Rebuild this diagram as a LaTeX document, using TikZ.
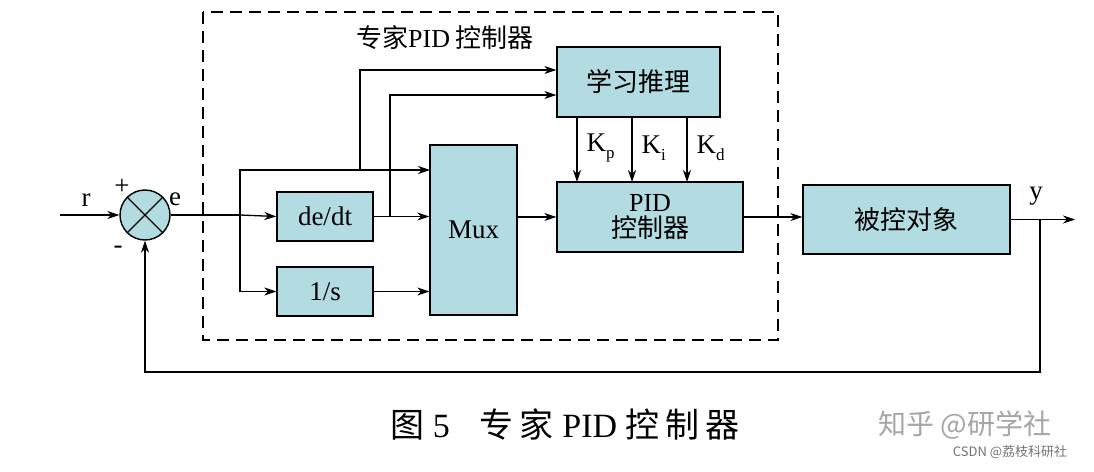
\documentclass[tikz,border=0pt]{standalone}
\usepackage{fontspec}
\setmainfont{Liberation Serif}
\newfontfamily\cjk{Noto Sans CJK SC}
\usetikzlibrary{arrows.meta}
\definecolor{boxc}{RGB}{178,220,226}
\begin{document}
\begin{tikzpicture}[x=1pt,y=-1pt,
  blk/.style={draw,line width=1.4pt,fill=boxc,inner sep=0},
  ar/.style={-{Stealth[length=12pt,width=8pt]},line width=1.3pt},
  ln/.style={line width=1.3pt},
  lab/.style={font=\fontsize{27}{29}\selectfont},
  zh/.style={font=\cjk\fontsize{26}{32}\selectfont}]
\useasboundingbox (0,0) rectangle (1094,471);
\fill[white] (0,0) rectangle (1094,471);
\draw[line width=1.4pt,dash pattern=on 12pt off 7pt] (203,12) rectangle (778,340);
\node[zh] (title) at (445,38) {专家{\fontspec{Liberation Serif}PID} 控制器};
\node[blk,minimum width=163pt,minimum height=70pt,zh] (learn) at (638.5,82) {学习推理};
\node[blk,minimum width=186pt,minimum height=70pt,zh,align=center] (pid) at (650,217) {\fontspec{Liberation Serif}PID\\[-6pt]控制器};
\node[blk,minimum width=87pt,minimum height=170pt,lab] (mux) at (473.5,230) {Mux};
\node[blk,minimum width=96pt,minimum height=49pt,lab] (dedt) at (325,216.5) {de/dt};
\node[blk,minimum width=96pt,minimum height=49pt,lab] (ints) at (325,291.5) {1/s};
\node[blk,minimum width=207pt,minimum height=69pt,zh] (plant) at (906.5,219.5) {被控对象};
\node[circle,draw,line width=1.4pt,fill=boxc,minimum size=50pt,inner sep=0] (sum) at (145,215) {};
\draw[line width=1.4pt] (sum.north west) -- (sum.south east) (sum.north east) -- (sum.south west);
\coordinate (rin) at (60,215);
\draw[ar] (rin) -- (sum.west);
\node[lab] at (86,200) {r};
\node[lab] at (122,187) {+};
\node[lab] at (118,250) {-};
\node[lab] at (175,199) {e};
\coordinate (b1) at (240,215);
\draw[ln] (sum.east) -- (b1);
\draw[ar] (b1) -- (dedt.west);
\draw[ar] (b1) |- (ints.west);
\draw[ar] (b1) |- (430,170) coordinate (m1);
\draw[ar] (360,170) |- (learn.west |- 0,70);
\draw[ar] (dedt.east) -- (mux.west |- dedt.east);
\draw[ar] (390,216.5) |- (learn.west |- 0,95);
\draw[ar] (ints.east) -- (mux.west |- ints.east);
\draw[ar] (mux.east |- 0,217) -- (pid.west);
\draw[ar] (pid.east) -- (plant.west |- pid.east);
\foreach \x/\s in {577/p,632/i,687/d}{
  \draw[ar] (\x,117) -- (\x,182);
  \node[lab,anchor=west] at (\x+6,148) {K\raisebox{-7pt}{\fontsize{17}{17}\selectfont\s}};
}
\coordinate (yout) at (1075,219.5);
\draw[ar] (plant.east) -- (yout);
\node[lab] at (1036,196) {y};
\draw[ar] (1040,219.5) |- (145,372) -- (sum.south);
\node[font=\fontsize{34}{38}\selectfont] (cap) at (565,424) {{\cjk 图} 5\hspace{30pt}{\cjk 专\hspace{6pt}家} PID {\cjk 控\hspace{6pt}制\hspace{6pt}器}};
\node[font=\cjk\fontsize{28}{32}\selectfont,text=black!35] at (965,425) {知乎 @研学社};
\node[font=\cjk\fontsize{13}{15}\selectfont,text=black!55] at (1010,452) {CSDN @荔枝科研社};
\end{tikzpicture}
\end{document}
